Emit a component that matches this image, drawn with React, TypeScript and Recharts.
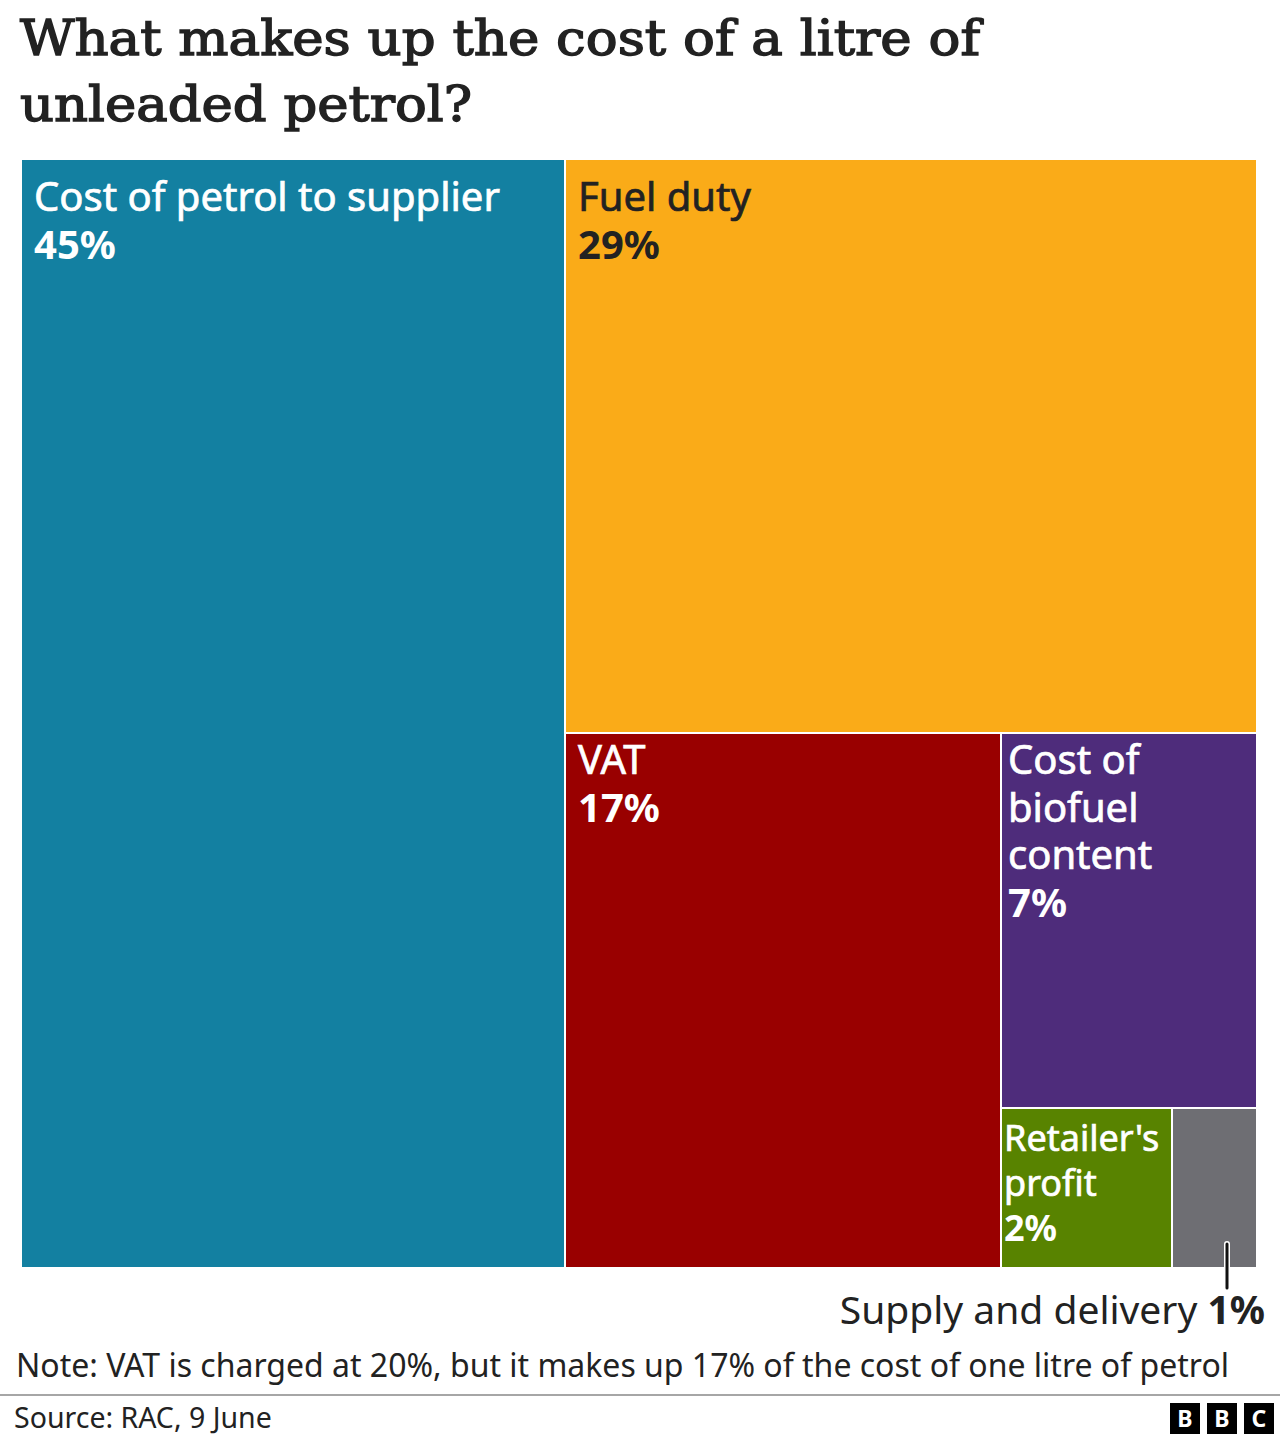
import React from 'react';
import { Treemap } from 'recharts';

// ---- Data ----
const categories = [
  'Cost of petrol to supplier',
  'Fuel duty',
  'VAT',
  'Cost of biofuel content',
  "Retailer's profit",
  'Supply and delivery',
];
// measured area shares of each rectangle
const areaShares = [44, 29, 17, 7, 2, 1];
// printed labels
const percentLabels = ['45%', '29%', '17%', '7%', '2%', '1%'];
const labelLines = [
  ['Cost of petrol to supplier'],
  ['Fuel duty'],
  ['VAT'],
  ['Cost of', 'biofuel', 'content'],
  ["Retailer's", 'profit'],
  ['Supply and delivery'],
];
const colors = ['#1380A1', '#FAAB18', '#990000', '#4E2C7B', '#588300', '#6E6E73'];
const textColors = ['#ffffff', '#222222', '#ffffff', '#ffffff', '#ffffff', '#222222'];

const titleLines = ['What makes up the cost of a litre of', 'unleaded petrol?'];
const noteText = 'Note: VAT is charged at 20%, but it makes up 17% of the cost of one litre of petrol';
const sourceText = 'Source: RAC, 9 June';

const treeData = categories.map((name, i) => ({ name, size: areaShares[i] }));

const SANS = '"Noto Sans", "Open Sans", sans-serif';
const SERIF = '"DejaVu Serif", "Liberation Serif", serif';

const CHART_LEFT = 21;
const CHART_TOP = 159;
const CHART_W = 1236;
const CHART_H = 1109;

function CellContent(props: any) {
  const { x, y, width, height, depth, name } = props;
  if (depth !== 1) return null;
  const i = categories.indexOf(name);
  if (i < 0) return null;
  const rect = (
    <rect x={x} y={y} width={width} height={height} fill={colors[i]} stroke="#ffffff" strokeWidth={2} />
  );
  if (width < 100) {
    // tiny cell: label outside with leader line
    const lx = x + width - 30;
    const by = y + height;
    return (
      <g>
        {rect}
        <line x1={lx} y1={by - 24} x2={lx} y2={by + 20} stroke="#ffffff" strokeWidth={6} strokeLinecap="round" />
        <line x1={lx} y1={by - 24} x2={lx} y2={by + 20} stroke="#111111" strokeWidth={3} strokeLinecap="round" />
        <text x={x + width + 8} y={by + 56} textAnchor="end" fontFamily={SANS} fontSize={39}
          fill={textColors[i]} stroke="none">
          {labelLines[i].join(' ') + ' '}
          <tspan fontWeight={700}>{percentLabels[i]}</tspan>
        </text>
      </g>
    );
  }
  const small = width < 200;
  const fs = small ? 36 : 40;
  const lh = small ? 45 : 47.5;
  const pad = width > 400 ? 13 : width > 200 ? 7 : 3;
  const top = y + (y < 1 ? 52 : small ? 43 : 41);
  const lines = labelLines[i];
  return (
    <g>
      {rect}
      <text fontFamily={SANS} fontSize={fs} fill={textColors[i]} stroke={textColors[i]} strokeWidth={0.7}>
        {lines.map((l, k) => (
          <tspan key={k} x={x + pad} y={top + k * lh}>
            {l}
          </tspan>
        ))}
      </text>
      <text x={x + pad} y={top + lines.length * lh} fontFamily={SANS} fontSize={fs} fontWeight={700}
        fill={textColors[i]} stroke="none">
        {percentLabels[i]}
      </text>
    </g>
  );
}

export default function App() {
  return (
    <div style={{ position: 'absolute', left: 0, top: 0, width: 1280, height: 1442, background: '#ffffff' }}>
      <style>{'.recharts-surface{overflow:visible}.recharts-wrapper{overflow:visible}'}</style>
      <svg
        width={1280}
        height={1442}
        style={{ position: 'absolute', left: 0, top: 0, pointerEvents: 'none' }}
      >
        <text x={20} y={55} fontFamily={SERIF} fontSize={48} fill="#222222" stroke="#222222" strokeWidth={1.4}
          textLength={960} lengthAdjust="spacingAndGlyphs">
          {titleLines[0]}
        </text>
        <text x={20} y={121} fontFamily={SERIF} fontSize={48} fill="#222222" stroke="#222222" strokeWidth={1.4}
          textLength={452} lengthAdjust="spacingAndGlyphs">
          {titleLines[1]}
        </text>
        <text x={16} y={1377} fontFamily={SANS} fontSize={32} fill="#222222">
          {noteText}
        </text>
        <rect x={0} y={1394} width={1280} height={2} fill="#a6a6a6" />
        <text x={14} y={1428} fontFamily={SANS} fontSize={28.5} fill="#222222">
          {sourceText}
        </text>
        {['B', 'B', 'C'].map((c, k) => (
          <g key={k}>
            <rect x={1170 + k * 37} y={1403} width={30} height={31} fill="#000000" />
            <text x={1185 + k * 37} y={1427} textAnchor="middle" fontFamily={SANS} fontWeight={700} fontSize={23} fill="#ffffff">
              {c}
            </text>
          </g>
        ))}
      </svg>
      <div style={{ position: 'absolute', left: CHART_LEFT, top: CHART_TOP, width: CHART_W, height: CHART_H }}>
        <Treemap
          width={CHART_W}
          height={CHART_H}
          data={treeData}
          dataKey="size"
          nameKey="name"
          aspectRatio={0.8}
          isAnimationActive={false}
          stroke="#ffffff"
          content={<CellContent />}
        />
      </div>
    </div>
  );
}
